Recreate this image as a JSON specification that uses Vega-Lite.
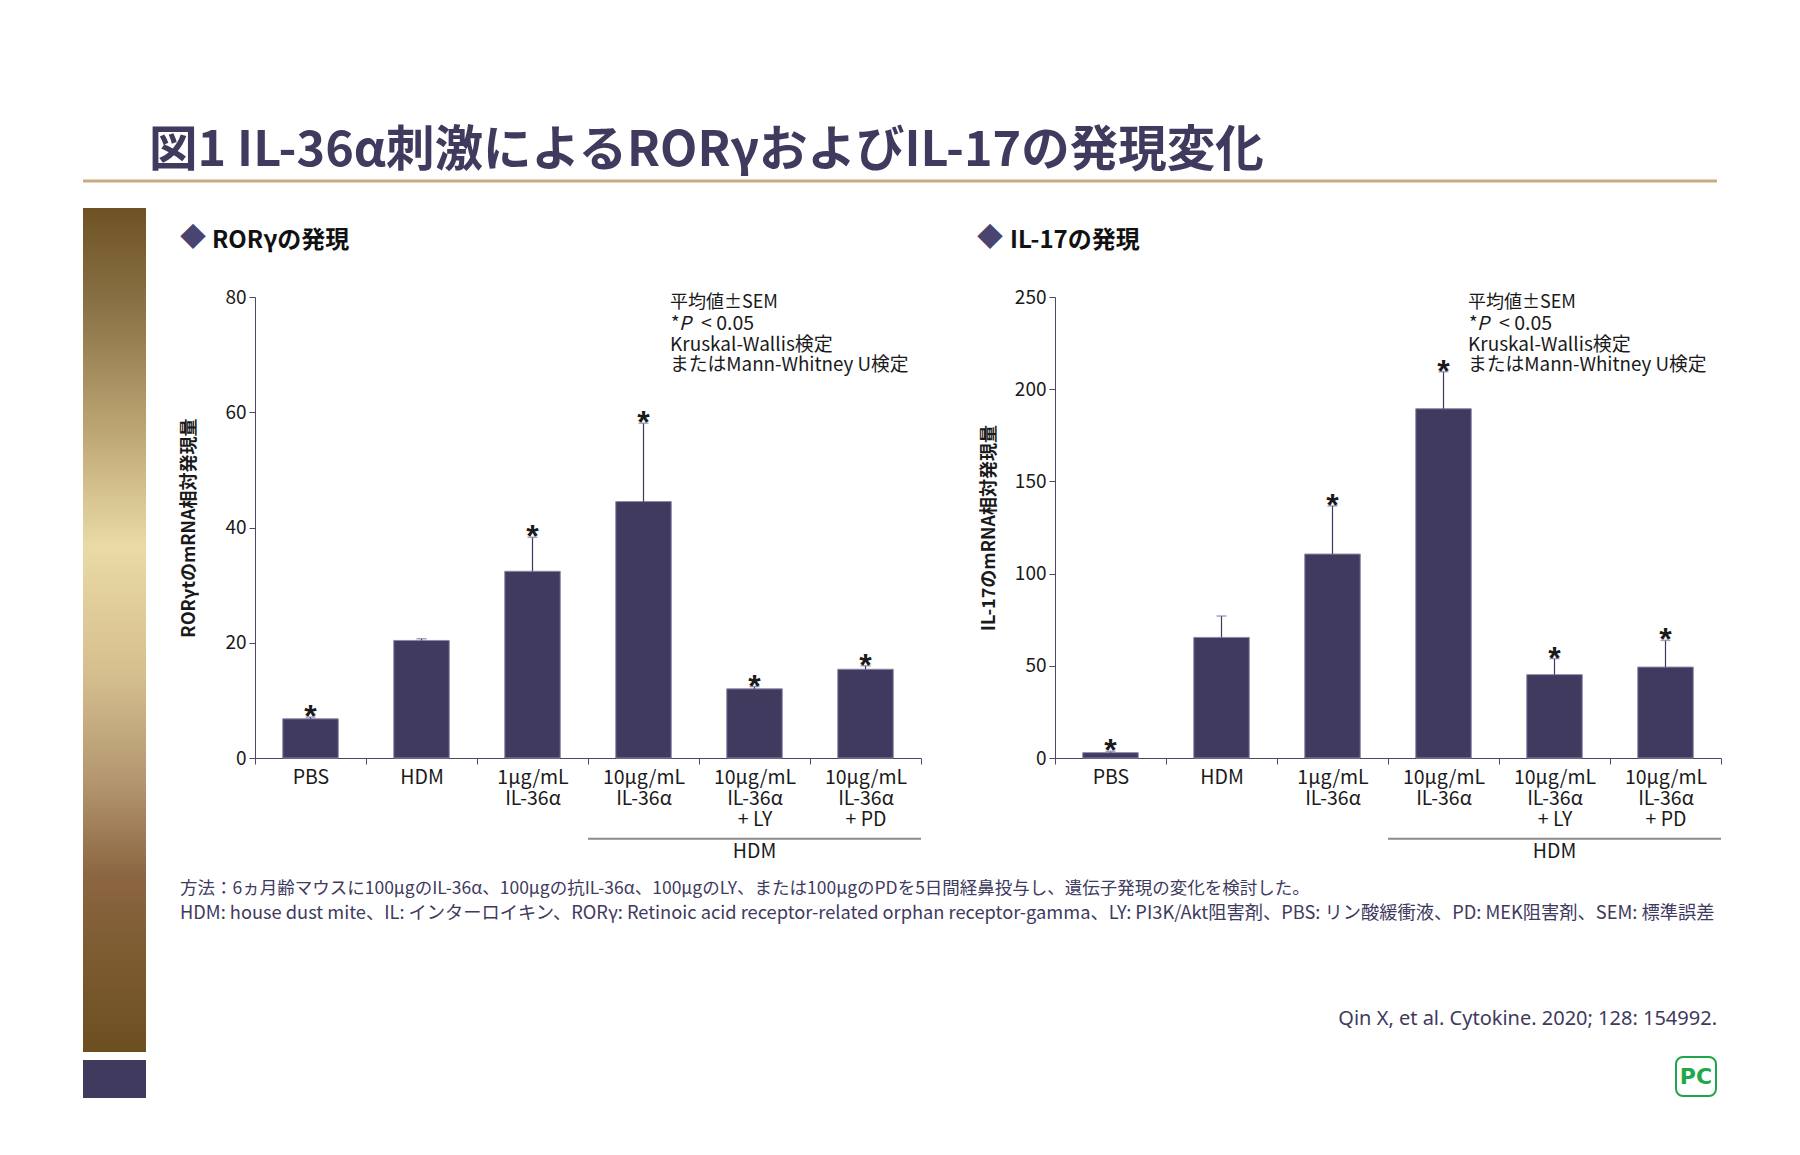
{
  "$schema": "https://vega.github.io/schema/vega-lite/v6.json",
  "padding": 0,
  "background": "white",
  "bounds": "flush",
  "spacing": 134,
  "config": {
    "view": {"stroke": null},
    "font": "Noto Sans CJK JP",
    "axis": {"grid": false, "zindex": 1, "domainColor": "#4b4863", "tickColor": "#4b4863", "labelColor": "#1a1a1a", "labelFont": "Noto Sans CJK JP", "titleFont": "Noto Sans CJK JP", "titleColor": "#1a1a1a"}
  },
  "datasets": {
    "ror": [
      {"g": "PBS", "v": 6.8, "hi": 7.1, "s": "*", "h": 0},
      {"g": "HDM", "v": 20.4, "hi": 20.7, "s": "", "h": 0},
      {"g": "1μg/mL|IL-36α", "v": 32.4, "hi": 38.3, "s": "*", "h": 0},
      {"g": "10μg/mL|IL-36α", "v": 44.5, "hi": 58.1, "s": "*", "h": 1},
      {"g": "10μg/mL|IL-36α|+ LY", "v": 12.0, "hi": 12.4, "s": "*", "h": 1},
      {"g": "10μg/mL|IL-36α|+ PD", "v": 15.4, "hi": 16.0, "s": "*", "h": 1}
    ],
    "il17": [
      {"g": "PBS", "v": 2.9, "hi": 3.6, "s": "*", "h": 0},
      {"g": "HDM", "v": 65.4, "hi": 77.0, "s": "", "h": 0},
      {"g": "1μg/mL|IL-36α", "v": 110.6, "hi": 136.7, "s": "*", "h": 0},
      {"g": "10μg/mL|IL-36α", "v": 189.4, "hi": 209.5, "s": "*", "h": 1},
      {"g": "10μg/mL|IL-36α|+ LY", "v": 45.2, "hi": 53.9, "s": "*", "h": 1},
      {"g": "10μg/mL|IL-36α|+ PD", "v": 49.3, "hi": 63.8, "s": "*", "h": 1}
    ]
  },
  "hconcat": [
    {
      "width": 666,
      "height": 461,
      "data": {"name": "ror"},
      "layer": [
        {"data": {"values": [{}]}, "mark": {"type": "rect", "x": -255, "x2": 1545, "y": -297, "y2": 858, "fill": "white", "opacity": 0}},
        {"data": {"values": [{}]}, "mark": {"type": "rect", "x": -172, "x2": 1462, "y": -117.5, "y2": -114.5, "fill": "#c8ad7f"}},
        {"data": {"values": [{}]}, "mark": {"type": "rect", "x": -172, "x2": -109, "y": -89, "y2": 755,
          "fill": {"gradient": "linear", "x1": 0, "y1": 0, "x2": 0, "y2": 1, "stops": [
            {"offset": 0, "color": "#6e5223"},
            {"offset": 0.12, "color": "#8b7347"},
            {"offset": 0.25, "color": "#b8a06f"},
            {"offset": 0.4, "color": "#e9daa6"},
            {"offset": 0.55, "color": "#d6bf8e"},
            {"offset": 0.68, "color": "#b39670"},
            {"offset": 0.79, "color": "#8c6642"},
            {"offset": 0.9, "color": "#7a5a2e"},
            {"offset": 1, "color": "#6c4f20"}]}}},
        {"data": {"values": [{}]}, "mark": {"type": "rect", "x": -172, "x2": -109, "y": 763, "y2": 801, "fill": "#403a5e"}},
        {"data": {"values": [{}]}, "mark": {"type": "text", "x": -106, "y": -131, "align": "left", "baseline": "alphabetic", "text": "図1 IL-36α刺激によるRORγおよびIL-17の発現変化", "font": "Noto Sans CJK JP", "fontSize": 48.5, "fontWeight": "bold", "fill": "#3f3a5e"}},
        {"data": {"values": [{}]}, "mark": {"type": "text", "x": -62, "y": -59, "align": "center", "baseline": "middle", "text": "◆", "font": "Noto Sans CJK JP", "fontSize": 26, "fill": "#4a4570"}},
        {"data": {"values": [{}]}, "mark": {"type": "text", "x": -43, "y": -49, "align": "left", "baseline": "alphabetic", "text": "RORγの発現", "font": "Noto Sans CJK JP", "fontSize": 24, "fontWeight": "bold", "fill": "#111111"}},
        {"data": {"values": [{}]}, "mark": {"type": "text", "x": -75, "y": 592, "align": "left", "baseline": "middle", "text": "方法：6ヵ月齢マウスに100μgのIL-36α、100μgの抗IL-36α、100μgのLY、または100μgのPDを5日間経鼻投与し、遺伝子発現の変化を検討した。", "font": "Noto Sans CJK JP", "fontSize": 17.5, "fill": "#403a5e"}},
        {"data": {"values": [{}]}, "mark": {"type": "text", "x": -75, "y": 617, "align": "left", "baseline": "middle", "text": "HDM: house dust mite、IL: インターロイキン、RORγ: Retinoic acid receptor-related orphan receptor-gamma、LY: PI3K/Akt阻害剤、PBS: リン酸緩衝液、PD: MEK阻害剤、SEM: 標準誤差", "font": "Noto Sans CJK JP", "fontSize": 18.25, "fill": "#403a5e"}},
        {
          "mark": {"type": "bar", "width": {"band": 0.5}, "fill": "#403a5e", "stroke": "#8a87aa", "strokeWidth": 1},
          "encoding": {
            "x": {"field": "g", "type": "nominal", "sort": null, "scale": {"paddingInner": 0, "paddingOuter": 0},
              "axis": {"title": null, "labelAngle": 0, "tickBand": "extent", "tickSize": 6, "labelFontSize": 19.5, "labelLineHeight": 21, "labelPadding": 4, "labelBaseline": "top", "labelExpr": "split(datum.label, '|')"}},
            "y": {"field": "v", "type": "quantitative", "scale": {"domain": [0, 80], "nice": false},
              "axis": {"title": "RORγtのmRNA相対発現量", "values": [0, 20, 40, 60, 80], "tickSize": 6, "labelFontSize": 19, "labelPadding": 3, "titleFontSize": 18, "titleFontWeight": "bold", "titleX": -66, "titleY": 230.5, "titleAlign": "center", "titleBaseline": "middle", "titleAngle": -90}}
          }
        },
        {
          "mark": {"type": "rule", "stroke": "#3d3860", "strokeWidth": 1.2},
          "encoding": {"x": {"field": "g", "type": "nominal", "sort": null}, "y": {"field": "v", "type": "quantitative"}, "y2": {"field": "hi"}}
        },
        {
          "mark": {"type": "tick", "orient": "horizontal", "size": 10, "thickness": 1.5, "color": "#7d7aa3"},
          "encoding": {"x": {"field": "g", "type": "nominal", "sort": null}, "y": {"field": "hi", "type": "quantitative"}}
        },
        {
          "mark": {"type": "text", "font": "Liberation Sans", "fontWeight": "bold", "fontSize": 32, "baseline": "alphabetic", "dy": 10, "fill": "#1a1a1a"},
          "encoding": {"x": {"field": "g", "type": "nominal", "sort": null}, "y": {"field": "hi", "type": "quantitative"}, "text": {"field": "s"}}
        },
        {
          "transform": [{"filter": "datum.h == 1"}],
          "mark": {"type": "rect", "y": 540.7, "y2": 542.7, "fill": "#8a8a8a"},
          "encoding": {"x": {"field": "g", "type": "nominal", "sort": null}}
        },
        {"data": {"values": [{"g": "10μg/mL|IL-36α|+ LY"}]}, "mark": {"type": "text", "y": 554.7, "baseline": "middle", "align": "center", "text": "HDM", "fontSize": 19.5, "fill": "#1a1a1a"},
          "encoding": {"x": {"field": "g", "type": "nominal", "sort": null}}},
        {"data": {"values": [{}]}, "mark": {"type": "text", "x": 415, "y": 6, "align": "left", "baseline": "middle", "text": "平均値±SEM", "fontSize": 18, "fill": "#1a1a1a"}},
        {"data": {"values": [{}]}, "mark": {"type": "text", "x": 416, "y": 27, "align": "left", "baseline": "middle", "text": "*", "fontSize": 18.5, "fill": "#1a1a1a"}},
        {"data": {"values": [{}]}, "mark": {"type": "text", "x": 424, "y": 27, "align": "left", "baseline": "middle", "text": "P", "fontSize": 19, "fontStyle": "italic", "fill": "#1a1a1a"}},
        {"data": {"values": [{}]}, "mark": {"type": "text", "x": 446, "y": 27, "align": "left", "baseline": "middle", "text": "<  0.05", "fontSize": 19.5, "fill": "#1a1a1a"}},
        {"data": {"values": [{}]}, "mark": {"type": "text", "x": 415, "y": 47.5, "align": "left", "baseline": "middle", "text": "Kruskal-Wallis検定", "fontSize": 19, "fill": "#1a1a1a"}},
        {"data": {"values": [{}]}, "mark": {"type": "text", "x": 415, "y": 68, "align": "left", "baseline": "middle", "text": "またはMann-Whitney U検定", "fontSize": 18.8, "fill": "#1a1a1a"}}
      ]
    },
    {
      "width": 666,
      "height": 461,
      "data": {"name": "il17"},
      "layer": [
        {"data": {"values": [{}]}, "mark": {"type": "text", "x": -65, "y": -59, "align": "center", "baseline": "middle", "text": "◆", "font": "Noto Sans CJK JP", "fontSize": 26, "fill": "#4a4570"}},
        {"data": {"values": [{}]}, "mark": {"type": "text", "x": -45, "y": -49, "align": "left", "baseline": "alphabetic", "text": "IL-17の発現", "font": "Noto Sans CJK JP", "fontSize": 24, "fontWeight": "bold", "fill": "#111111"}},
        {"data": {"values": [{}]}, "mark": {"type": "text", "x": 662, "y": 722, "align": "right", "baseline": "middle", "text": "Qin X, et al. Cytokine. 2020; 128: 154992.", "font": "Noto Sans", "fontSize": 20, "fill": "#403a5e"}},
        {"data": {"values": [{}]}, "mark": {"type": "rect", "x": 621, "x2": 661, "y": 760, "y2": 799, "fill": "white", "stroke": "#1fa84a", "strokeWidth": 2, "cornerRadius": 7}},
        {"data": {"values": [{}]}, "mark": {"type": "text", "x": 641, "y": 780, "align": "center", "baseline": "middle", "text": "PC", "font": "DejaVu Sans", "fontWeight": "bold", "fontSize": 22, "fill": "#1fa84a"}},
        {
          "mark": {"type": "bar", "width": {"band": 0.5}, "fill": "#403a5e", "stroke": "#8a87aa", "strokeWidth": 1},
          "encoding": {
            "x": {"field": "g", "type": "nominal", "sort": null, "scale": {"paddingInner": 0, "paddingOuter": 0},
              "axis": {"title": null, "labelAngle": 0, "tickBand": "extent", "tickSize": 6, "labelFontSize": 19.5, "labelLineHeight": 21, "labelPadding": 4, "labelBaseline": "top", "labelExpr": "split(datum.label, '|')"}},
            "y": {"field": "v", "type": "quantitative", "scale": {"domain": [0, 250], "nice": false},
              "axis": {"title": "IL-17のmRNA相対発現量", "values": [0, 50, 100, 150, 200, 250], "tickSize": 6, "labelFontSize": 19, "labelPadding": 3, "titleFontSize": 18, "titleFontWeight": "bold", "titleX": -66, "titleY": 230.5, "titleAlign": "center", "titleBaseline": "middle", "titleAngle": -90}}
          }
        },
        {
          "mark": {"type": "rule", "stroke": "#3d3860", "strokeWidth": 1.2},
          "encoding": {"x": {"field": "g", "type": "nominal", "sort": null}, "y": {"field": "v", "type": "quantitative"}, "y2": {"field": "hi"}}
        },
        {
          "mark": {"type": "tick", "orient": "horizontal", "size": 10, "thickness": 1.5, "color": "#7d7aa3"},
          "encoding": {"x": {"field": "g", "type": "nominal", "sort": null}, "y": {"field": "hi", "type": "quantitative"}}
        },
        {
          "mark": {"type": "text", "font": "Liberation Sans", "fontWeight": "bold", "fontSize": 32, "baseline": "alphabetic", "dy": 10, "fill": "#1a1a1a"},
          "encoding": {"x": {"field": "g", "type": "nominal", "sort": null}, "y": {"field": "hi", "type": "quantitative"}, "text": {"field": "s"}}
        },
        {
          "transform": [{"filter": "datum.h == 1"}],
          "mark": {"type": "rect", "y": 540.7, "y2": 542.7, "fill": "#8a8a8a"},
          "encoding": {"x": {"field": "g", "type": "nominal", "sort": null}}
        },
        {"data": {"values": [{"g": "10μg/mL|IL-36α|+ LY"}]}, "mark": {"type": "text", "y": 554.7, "baseline": "middle", "align": "center", "text": "HDM", "fontSize": 19.5, "fill": "#1a1a1a"},
          "encoding": {"x": {"field": "g", "type": "nominal", "sort": null}}},
        {"data": {"values": [{}]}, "mark": {"type": "text", "x": 413, "y": 6, "align": "left", "baseline": "middle", "text": "平均値±SEM", "fontSize": 18, "fill": "#1a1a1a"}},
        {"data": {"values": [{}]}, "mark": {"type": "text", "x": 414, "y": 27, "align": "left", "baseline": "middle", "text": "*", "fontSize": 18.5, "fill": "#1a1a1a"}},
        {"data": {"values": [{}]}, "mark": {"type": "text", "x": 422, "y": 27, "align": "left", "baseline": "middle", "text": "P", "fontSize": 19, "fontStyle": "italic", "fill": "#1a1a1a"}},
        {"data": {"values": [{}]}, "mark": {"type": "text", "x": 444, "y": 27, "align": "left", "baseline": "middle", "text": "<  0.05", "fontSize": 19.5, "fill": "#1a1a1a"}},
        {"data": {"values": [{}]}, "mark": {"type": "text", "x": 413, "y": 47.5, "align": "left", "baseline": "middle", "text": "Kruskal-Wallis検定", "fontSize": 19, "fill": "#1a1a1a"}},
        {"data": {"values": [{}]}, "mark": {"type": "text", "x": 413, "y": 68, "align": "left", "baseline": "middle", "text": "またはMann-Whitney U検定", "fontSize": 18.8, "fill": "#1a1a1a"}}
      ]
    }
  ]
}
